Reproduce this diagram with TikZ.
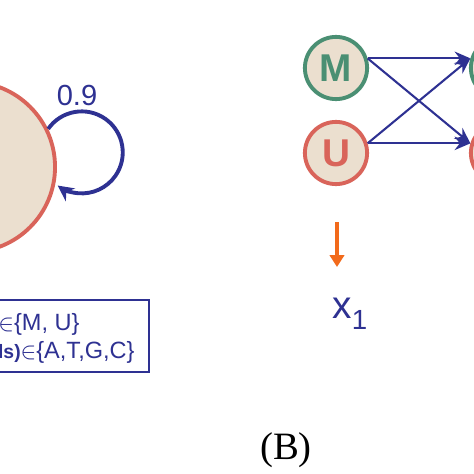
\documentclass[tikz,border=0pt]{standalone}
\usepackage{fontspec}
\setmainfont{Liberation Sans}
\newfontfamily\serifB{Liberation Serif}
\usetikzlibrary{positioning, arrows.meta}
\definecolor{blucol}{HTML}{2E3192}
\definecolor{verdecol}{HTML}{4A8F73}
\definecolor{rossocol}{HTML}{D9645A}
\definecolor{beigecol}{HTML}{EBDFCF}
\definecolor{arancio}{HTML}{F26A1B}
\tikzset{
	>={Stealth[length=2mm, width=1.7mm]},
	% stato nascosto
	stato/.style={draw, circle, line width=1.4pt, fill=beigecol, minimum size=7.9mm, inner sep=0pt,
	              font=\fontsize{14}{16}\selectfont\bfseries},
	% transizione tra stati
	transiz/.style={->, line width=0.75pt, blucol},
	% auto-anello
	ciclo/.style={-{Stealth[length=2mm, width=2mm]}, line width=1.4pt, blucol},
	% emissione
	osserv/.style={-{Triangle[length=1.5mm, width=1.8mm]}, line width=1.1pt, arancio},
	% riquadro legenda
	legenda/.style={draw=blucol, line width=0.7pt, minimum width=20.2mm, minimum height=9.1mm},
	voce/.style={text=blucol, font=\fontsize{8.5}{10}\selectfont, inner sep=0pt, anchor=base east},
}

\begin{document}
\begin{tikzpicture}[x=0.127mm, y=0.127mm]
    \useasboundingbox[fill=white] (0,0) rectangle (474,474);
    \clip (0,0) rectangle (474,474);

    % stato grande con auto-anello
    \node[stato, draw=rossocol, minimum size=21.6mm] (grande) at (-30,307) {};
    \draw[ciclo] (grande.26) arc[start angle=145, end angle=-126, radius=41];
    \node[text=blucol, font=\fontsize{10.5}{12}\selectfont] (prob) at (77,379) {0.9};

    % legenda
    \node[legenda] (leg) at (69.5,138) {};
    \node[voce] (riga1) at (80,144) {{\fontsize{7}{8}\selectfont\bfseries (state)}$\in$\{M, U\}};
    \node[voce] (riga2) at (135,116) {{\fontsize{7}{8}\selectfont\bfseries (symbols)}$\in$\{A,T,G,C\}};

    % stati al tempo 1 e 2
    \node[stato, draw=verdecol, text=verdecol] (M1) at (336,406) {M};
    \node[stato, draw=rossocol, text=rossocol] (U1) at (336,321) {U};
    \node[stato, draw=verdecol] (M2) at (502,406) {};
    \node[stato, draw=rossocol] (U2) at (502,321) {};

    % transizioni
    \draw[transiz] (M1.17) -- (M2.163);
    \draw[transiz] (M1.17) -- (U2.163);
    \draw[transiz] (U1.17) -- (M2.163);
    \draw[transiz] (U1.17) -- (U2.163);

    % osservazione
    \node[text=blucol, font=\fontsize{14}{16}\selectfont] (x1) at (350,160) {x\raisebox{-4pt}{\fontsize{10}{12}\selectfont 1}};
    \coordinate (emis) at (337,252);
    \coordinate (emisfine) at (337,207);
    \draw[osserv] (emis) -- (emisfine);

    \node[font=\serifB\fontsize{14}{16}\selectfont] (etich) at (286,24) {(B)};
\end{tikzpicture}
\end{document}
